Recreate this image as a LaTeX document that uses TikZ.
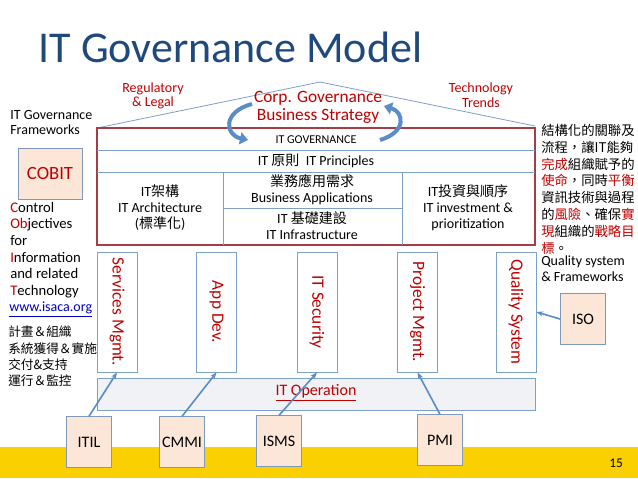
\documentclass[tikz,border=0pt]{standalone}
\usepackage{fontspec}
\setmainfont{Carlito}
\newfontfamily\cjk{Noto Sans CJK TC}
\usetikzlibrary{arrows.meta}
\definecolor{rd}{RGB}{192,0,0}
\definecolor{ttl}{RGB}{31,73,125}
\definecolor{lb}{RGB}{125,160,200}
\definecolor{bx}{RGB}{165,60,70}
\definecolor{yl}{RGB}{250,208,0}
\definecolor{nt}{RGB}{252,230,216}
\definecolor{op}{RGB}{240,242,245}
\definecolor{ar}{RGB}{90,140,200}
\tikzset{
 pillar/.style={draw=lb,fill=white,line width=0.6pt,minimum width=30pt,minimum height=90pt,inner sep=0},
 ptext/.style={rotate=-90,text=rd,font=\fontsize{13}{15}\selectfont},
 note/.style={draw=lb!80!gray,fill=nt,line width=0.5pt,minimum width=34pt,minimum height=38pt,inner sep=0,font=\fontsize{12}{14}\selectfont},
 conn/.style={draw=ar,line width=1.2pt,-{Stealth[length=5pt]}},
 lbl/.style={font=\fontsize{10.5}{11.5}\selectfont,align=left,inner sep=0,anchor=north west},
}
\begin{document}
\begin{tikzpicture}[x=0.75pt,y=-0.75pt]
\useasboundingbox (0,0) rectangle (638,478);
\fill[yl] (0,447) rectangle (638,478);
\node at (616,463) {\fontsize{10}{12}\selectfont 15};
\node[anchor=west,text=ttl,font=\fontsize{33}{36}\selectfont] (title) at (34,47) {IT Governance Model};
% roof
\coordinate (apex) at (320,82);
\draw[lb,line width=0.6pt] (97,128) -- (apex) -- (535,126);
% main box
\draw[bx,line width=1.2pt,fill=white] (97,128) rectangle (535,245);
\draw[lb,line width=0.6pt] (97,150) -- (535,150) (97,172) -- (535,172) (223,172) -- (223,245) (402,172) -- (402,245) (223,208) -- (402,208);
\node[font=\fontsize{9}{11}\selectfont] (gov) at (316,139.5) {IT GOVERNANCE};
\node[font=\fontsize{10.5}{12}\selectfont] (pr) at (316,161) {IT {\cjk 原則}\ \ IT Principles};
\node[align=center,font=\fontsize{10.5}{12}\selectfont] (arch) at (160,208) {IT{\cjk 架構}\\IT Architecture\\({\cjk 標準化})};
\node[align=center,font=\fontsize{10.5}{12}\selectfont] (ba) at (312,190) {{\cjk 業務應用需求}\\Business Applications};
\node[align=center,font=\fontsize{10.5}{12}\selectfont] (inf) at (312,226) {IT {\cjk 基礎建設}\\IT Infrastructure};
\node[align=center,font=\fontsize{10.5}{12}\selectfont] (inv) at (468,208) {IT{\cjk 投資與順序}\\IT investment \&\\prioritization};
% roof labels
\node[align=center,text=rd,font=\fontsize{10.5}{11}\selectfont] (reg) at (153,96) {Regulatory\\\& Legal};
\node[align=center,text=rd,font=\fontsize{13}{13.5}\selectfont] (corp) at (318,107) {Corp. Governance\\Business Strategy};
\node[align=center,text=rd,font=\fontsize{10.5}{11}\selectfont] (tech) at (481,95) {Technology\\Trends};
\draw[ar,line width=3pt,-{Triangle[length=6pt,width=9pt]}] (252,104) .. controls (222,112) and (225,135) .. (248,140);
\draw[ar,line width=3pt,-{Triangle[length=6pt,width=9pt]}] (380,140) .. controls (407,132) and (404,112) .. (384,106);
% pillars
\foreach \n/\x/\t in {sm/117/Services Mgmt.,ad/216.5/App Dev.,is/317/IT Security,pm/417.5/Project Mgmt.,qs/516/Quality System}{
  \node[pillar] (\n) at (\x,312) {};
  \node[ptext] at (\x,312) {\t};
}
\node[draw=lb,fill=op,line width=0.6pt,minimum width=328.5pt,minimum height=24pt,inner sep=0] (itop) at (316,394) {};
\node[text=rd,font=\fontsize{12}{14}\selectfont] at (316,393) {\underline{IT Operation}};
% notes
\foreach \n/\x/\y/\t in {itil/89/442/ITIL,cmmi/182/442/CMMI,isms/279/441/ISMS,pmi/440/440/PMI,iso/583/319/ISO}{
  \node[note] (\n) at (\x,\y) {\t};
}
\node[note,minimum width=48pt,text=rd,font=\fontsize{14}{16}\selectfont] (cobit) at (50,174) {COBIT};
\draw[conn] (itil.north) -- (sm.south);
\draw[conn] (cmmi.north) -- (ad.south);
\draw[conn] (isms.north) -- (is.south);
\draw[conn] (pmi.north) -- (pm.south);
\draw[conn] (iso.west) -- (qs.east);
% left texts
\node[lbl] (itgf) at (10,110) {IT Governance\\Frameworks};
\node[lbl,font=\fontsize{11}{12.4}\selectfont] (cobitx) at (10,202) {{\color{rd}C}ontrol\\{\color{rd}Ob}jectives\\for\\{\color{rd}I}nformation\\and related\\{\color{rd}T}echnology};
\node[lbl,text=blue!75!black] (url) at (9,302) {\underline{www.isaca.org}};
\node[lbl,font=\cjk\fontsize{9.5}{12.2}\selectfont] (plan) at (8,326) {計畫＆組織\\系統獲得＆實施\\交付\&支持\\運行＆監控};
% right texts
\node[lbl,font=\cjk\fontsize{10}{12.6}\selectfont] (desc) at (541,124) {結構化的關聯及\\流程，讓IT能夠\\{\color{rd}完成}組織賦予的\\{\color{rd}使命}，同時{\color{rd}平衡}\\資訊技術與過程\\的{\color{rd}風險}、確保{\color{rd}實}\\{\color{rd}現}組織的{\color{rd}戰略目}\\{\color{rd}標}。};
\node[lbl] (qsf) at (541,256) {Quality system\\\& Frameworks};
\end{tikzpicture}
\end{document}
